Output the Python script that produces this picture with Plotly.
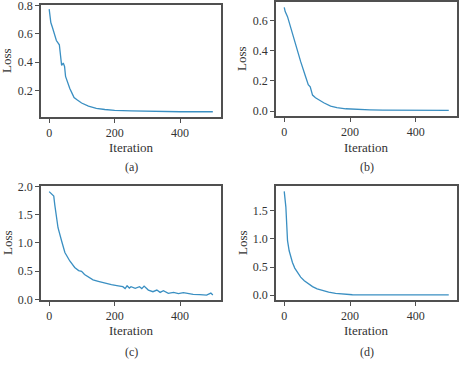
import plotly.graph_objects as go

# ---- data ----
iter_a = [0, 5, 10, 15, 22, 31, 35, 38, 43, 47, 50, 56, 63, 70, 76, 85, 99, 120, 144, 170, 200, 250, 300, 350, 400, 450, 500]
loss_a = [0.775, 0.68, 0.645, 0.61, 0.553, 0.523, 0.45, 0.378, 0.394, 0.37, 0.30, 0.255, 0.214, 0.18, 0.151, 0.135, 0.112,
          0.09, 0.074, 0.066, 0.06, 0.056, 0.053, 0.051, 0.050, 0.050, 0.050]

iter_b = [0, 3, 10, 20, 35, 50, 65, 73, 79, 82, 86, 95, 106, 120, 141, 160, 187, 220, 260, 300, 350, 400, 450, 500]
loss_b = [0.689, 0.66, 0.627, 0.55, 0.427, 0.328, 0.228, 0.175, 0.16, 0.13, 0.106, 0.088, 0.073, 0.055, 0.033, 0.023,
          0.015, 0.01, 0.008, 0.006, 0.005, 0.004, 0.004, 0.004]

iter_c = [0, 7, 14, 17, 22, 27, 38, 48, 63, 78, 90, 99, 108, 114, 125, 134, 150, 170, 190, 211, 225, 232, 238, 245,
          250, 263, 276, 283, 290, 303, 317, 329, 339, 349, 364, 380, 395, 410, 425, 440, 460, 481, 494, 500]
loss_c = [1.91, 1.87, 1.83, 1.68, 1.45, 1.27, 1.035, 0.83, 0.68, 0.565, 0.51, 0.495, 0.44, 0.417, 0.38, 0.346, 0.32,
          0.288, 0.26, 0.24, 0.225, 0.19, 0.24, 0.2, 0.223, 0.194, 0.223, 0.19, 0.235, 0.164, 0.135, 0.164, 0.123,
          0.152, 0.105, 0.123, 0.1, 0.117, 0.1, 0.088, 0.085, 0.076, 0.111, 0.076]

iter_d = [0, 2, 5, 8, 10, 15, 20, 25, 32, 40, 50, 61, 73, 86, 100, 116, 135, 156, 180, 207, 250, 300, 350, 400, 450, 500]
loss_d = [1.85, 1.75, 1.57, 1.21, 0.97, 0.79, 0.67, 0.58, 0.48, 0.405, 0.32, 0.256, 0.2, 0.15, 0.11, 0.077, 0.05,
          0.03, 0.015, 0.005, 0.003, 0.002, 0.001, 0.001, 0.001, 0.001]

x_ticks = [0, 200, 400]
y_ticks_a = [0.2, 0.4, 0.6, 0.8]
y_ticks_b = [0.0, 0.2, 0.4, 0.6]
y_ticks_c = [0.0, 0.5, 1.0, 1.5, 2.0]
y_ticks_d = [0.0, 0.5, 1.0, 1.5]
panel_labels = ["(a)", "(b)", "(c)", "(d)"]
x_title = "Iteration"
y_title = "Loss"

W, H = 474, 374
FONT = "Liberation Serif"
LINE = "#3a8fc2"
FRAME = "#505050"

# pixel boxes: left, right, top, bottom
boxes = [(41, 221, 5, 117), (276, 457, 2, 116), (41, 221, 186, 300), (276, 457, 186, 300)]
yranges = [[0.013, 0.804], [-0.033, 0.724], [-0.012, 2.01], [-0.089, 1.946]]
series = [(iter_a, loss_a, y_ticks_a), (iter_b, loss_b, y_ticks_b),
          (iter_c, loss_c, y_ticks_c), (iter_d, loss_d, y_ticks_d)]
label_y = [(147, 167), (147, 167), (330, 352), (330, 352)]

fig = go.Figure()
ann = []
for i, ((l, r, t, b), yr, (xs, ys, yt), (ly1, ly2), pl) in enumerate(
        zip(boxes, yranges, series, label_y, panel_labels)):
    n = "" if i == 0 else str(i + 1)
    fig.add_trace(go.Scatter(x=xs, y=ys, mode="lines", line=dict(color=LINE, width=1.3),
                             xaxis="x" + n, yaxis="y" + n, showlegend=False))
    common = dict(showline=True, mirror=True, linecolor=FRAME, linewidth=1.6, ticks="outside",
                  ticklen=4, tickcolor=FRAME, tickwidth=1, showgrid=False, zeroline=False,
                  automargin=False, ticklabeloverflow="allow",
                  tickfont=dict(family=FONT, size=12, color="#333"))
    fig.update_layout(**{
        "xaxis" + n: dict(domain=[l / W, r / W], range=[-25, 525], tickvals=x_ticks,
                          anchor="y" + n, **common),
        "yaxis" + n: dict(domain=[1 - b / H, 1 - t / H], range=yr, tickvals=yt, tickformat=".1f",
                          anchor="x" + n, **common),
    })
    cx = (l + r) / 2 / W
    ann.append(dict(x=cx, y=1 - ly1 / H, xref="paper", yref="paper", text=x_title, showarrow=False,
                    font=dict(family=FONT, size=13, color="#333"), xanchor="center", yanchor="middle"))
    ann.append(dict(x=cx, y=1 - ly2 / H, xref="paper", yref="paper", text=pl, showarrow=False,
                    font=dict(family=FONT, size=12, color="#333"), xanchor="center", yanchor="middle"))
    lx = 7 if i % 2 == 0 else 242
    ann.append(dict(x=lx / W, y=1 - (t + b) / 2 / H, xref="paper", yref="paper", text=y_title,
                    showarrow=False, textangle=-90,
                    font=dict(family=FONT, size=13, color="#333"), xanchor="center", yanchor="middle"))

fig.update_layout(width=W, height=H, margin=dict(l=0, r=0, t=0, b=0),
                  paper_bgcolor="white", plot_bgcolor="white", annotations=ann)
fig.write_html("out.html", config={"displayModeBar": False},
               post_script="document.body.style.margin='0px';")
